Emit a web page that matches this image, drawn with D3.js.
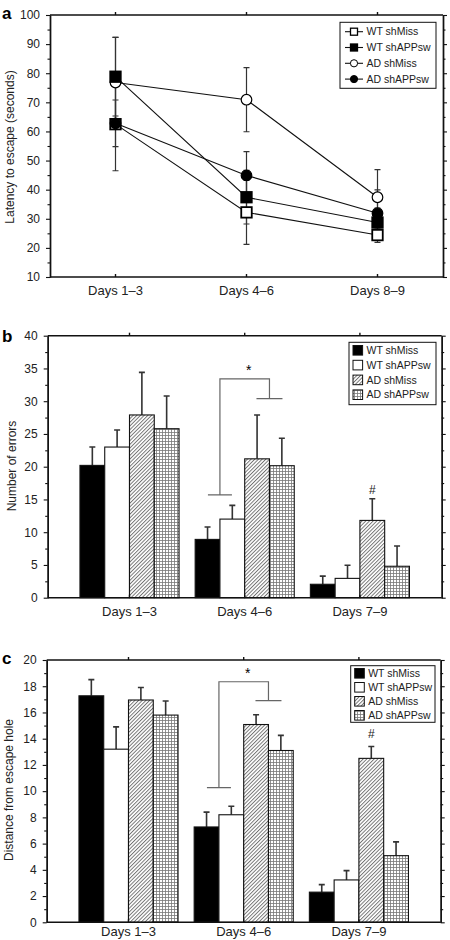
<!DOCTYPE html>
<html><head><meta charset="utf-8">
<script src="https://cdn.jsdelivr.net/npm/d3@7"></script>
<style>
body{margin:0;background:#fff;}
svg{display:block;font-family:"Liberation Sans",Arial,sans-serif;}
</style></head><body>
<svg width="450" height="940"></svg>
<script>
const seriesNames = ["WT shMiss", "WT shAPPsw", "AD shMiss", "AD shAPPsw"];
const daysA = ["Days 1–3", "Days 4–6", "Days 8–9"];
const daysBC = ["Days 1–3", "Days 4–6", "Days 7–9"];

// a: latency to escape (s)
const latWTshMiss = [62.5, 32.2, 24.4];
const latWTshAPPsw = [78.8, 37.4, 28.7];
const latADshMiss = [76.8, 70.9, 37.4];
const latADshAPPsw = [62.8, 44.9, 31.9];
const latErrWTshMiss = [16, 11, 2.5];
const latErrWTshAPPsw = [13.5, 9.2, 5];
const latErrADshMiss = [15.5, 11, 9.5];
const latErrADshAPPsw = [8, 8.2, 8];

// b: number of errors
const errWTshMiss = [20.2, 8.9, 2.05];
const errWTshAPPsw = [23.0, 12.0, 2.95];
const errADshMiss = [27.9, 21.2, 11.8];
const errADshAPPsw = [25.8, 20.15, 4.8];
const errSemWTshMiss = [2.8, 1.9, 1.25];
const errSemWTshAPPsw = [2.6, 2.1, 2.0];
const errSemADshMiss = [6.5, 6.7, 3.3];
const errSemADshAPPsw = [5.0, 4.2, 3.1];

// c: distance from escape hole
const distWTshMiss = [17.27, 7.27, 2.3];
const distWTshAPPsw = [13.2, 8.2, 3.23];
const distADshMiss = [16.95, 15.08, 12.5];
const distADshAPPsw = [15.8, 13.1, 5.08];
const distSemWTshMiss = [1.23, 1.13, 0.57];
const distSemWTshAPPsw = [1.7, 0.65, 0.71];
const distSemADshMiss = [0.95, 0.75, 0.9];
const distSemADshAPPsw = [1.07, 1.15, 1.05];

// significance marks: [left base, right base, bracket top]
const bracketB = [15.7, 30.4, 33.4];
const bracketC = [10.27, 16.9, 18.34];

const svg = d3.select('svg');
const defs = svg.append('defs');
const diag = defs.append('pattern').attr('id', 'diag').attr('patternUnits', 'userSpaceOnUse')
    .attr('width', 2.6).attr('height', 2.6).attr('patternTransform', 'rotate(45)');
diag.append('rect').attr('width', 2.6).attr('height', 2.6).attr('fill', '#fff');
diag.append('line').attr('x1', 0.5).attr('y1', 0).attr('x2', 0.5).attr('y2', 2.6)
    .attr('stroke', '#6a6a6a').attr('stroke-width', 0.9);
const cross = defs.append('pattern').attr('id', 'cross').attr('patternUnits', 'userSpaceOnUse')
    .attr('width', 3).attr('height', 3);
cross.append('rect').attr('width', 3).attr('height', 3).attr('fill', '#fff');
cross.append('path').attr('d', 'M0.5,0V3M0,0.5H3').attr('stroke', '#777').attr('stroke-width', 0.8);

const fills = ['#000', '#fff', 'url(#diag)', 'url(#cross)'];

function frame(g, x0, x1, y, major, minor, catX) {
    // left axis
    g.append('g').attr('transform', `translate(${x0},0)`)
        .call(d3.axisLeft(y).tickValues(major).tickSize(4).tickPadding(6).tickSizeOuter(0))
        .call(a => a.selectAll('text').attr('font-size', '12px').attr('fill', '#222'));
    g.append('g').attr('transform', `translate(${x0},0)`)
        .call(d3.axisLeft(y).tickValues(minor).tickSize(2.5).tickFormat('').tickSizeOuter(0));
    // right axis
    g.append('g').attr('transform', `translate(${x1},0)`)
        .call(d3.axisRight(y).tickValues(major).tickSize(4).tickFormat('').tickSizeOuter(0));
    g.append('g').attr('transform', `translate(${x1},0)`)
        .call(d3.axisRight(y).tickValues(minor).tickSize(2.5).tickFormat('').tickSizeOuter(0));
    const [yb, yt] = y.range();
    g.append('line').attr('x1', x0).attr('x2', x1).attr('y1', yb).attr('y2', yb);
    g.append('line').attr('x1', x0).attr('x2', x1).attr('y1', yt).attr('y2', yt);
    catX.forEach(cx => {
        g.append('line').attr('x1', cx).attr('x2', cx).attr('y1', yt).attr('y2', yt - 3);
        g.append('line').attr('x1', cx).attr('x2', cx).attr('y1', yb).attr('y2', yb - 3);
    });
    g.selectAll('line,path.domain').attr('stroke', '#111').attr('stroke-width', 1.4);
    g.selectAll('.tick line').attr('stroke-width', 1.1);
}

function yTitle(x, y, text) {
    svg.append('text').attr('transform', `translate(${x},${y}) rotate(-90)`)
        .attr('text-anchor', 'middle').attr('dy', '0.35em')
        .attr('font-size', '12px').attr('fill', '#222').text(text);
}
function letter(x, y, t) {
    svg.append('text').attr('x', x).attr('y', y).attr('font-weight', 'bold')
        .attr('font-size', '17px').text(t);
}

// ---------- panel a ----------
{
    const latency = [latWTshMiss, latWTshAPPsw, latADshMiss, latADshAPPsw];
    const latErr = [latErrWTshMiss, latErrWTshAPPsw, latErrADshMiss, latErrADshAPPsw];
    const x = d3.scalePoint().domain(daysA).range([50, 443]).padding(0.5);
    const y = d3.scaleLinear().domain([10, 100]).range([277, 15]);
    const g = svg.append('g');
    frame(g, 50, 443, y, d3.range(10, 101, 10), d3.range(15, 100, 10), daysA.map(x));
    daysA.forEach(d => g.append('text').attr('x', x(d)).attr('y', 295)
        .attr('text-anchor', 'middle').attr('font-size', '13px').attr('fill', '#222').text(d));
    const line = d3.line().x((v, i) => x(daysA[i])).y(v => y(v));
    latency.forEach(s => g.append('path').attr('d', line(s)).attr('fill', 'none')
        .attr('stroke', '#111').attr('stroke-width', 1.1));
    latency.forEach((s, k) => s.forEach((v, i) => {
        const cx = x(daysA[i]), e = latErr[k][i];
        g.append('path').attr('d', `M${cx},${y(v - e)}V${y(v + e)}M${cx - 3},${y(v - e)}H${cx + 3}M${cx - 3},${y(v + e)}H${cx + 3}`)
            .attr('stroke', '#333').attr('stroke-width', 1.2).attr('fill', 'none');
    }));
    const marker = (sel, k, cx, cy, big) => {
        const filled = k % 2 === 1;
        if (k < 2) {
            const s = big ? 10.5 : 7;
            sel.append('rect').attr('x', cx - s / 2).attr('y', cy - s / 2).attr('width', s).attr('height', s)
                .attr('fill', filled ? '#000' : '#fff').attr('stroke', '#000').attr('stroke-width', big ? 1.8 : 1.3);
        } else {
            sel.append('circle').attr('cx', cx).attr('cy', cy).attr('r', big ? 5.3 : 3.6)
                .attr('fill', filled ? '#000' : '#fff').attr('stroke', '#000').attr('stroke-width', big ? 1.2 : 1);
        }
    };
    [2, 0, 3, 1].forEach(k => latency[k].forEach((v, i) => marker(g, k, x(daysA[i]), y(v), true)));
    // legend
    g.append('rect').attr('x', 340).attr('y', 22.3).attr('width', 96).attr('height', 66)
        .attr('fill', '#fff').attr('stroke', '#111').attr('stroke-width', 1);
    seriesNames.forEach((n, k) => {
        const ry = 31.7 + k * 15.8;
        g.append('line').attr('x1', 345).attr('x2', 363).attr('y1', ry).attr('y2', ry)
            .attr('stroke', '#111').attr('stroke-width', 1.1);
        marker(g, k, 354, ry, false);
        g.append('text').attr('x', 366.5).attr('y', ry).attr('dy', '0.36em')
            .attr('font-size', '10.5px').attr('fill', '#222').text(n);
    });
    yTitle(9.5, 147, 'Latency to escape (seconds)');
    letter(2, 19, 'a');
}

function barPanel(p) {
    const x = d3.scaleBand().domain(daysBC).range([p.x0, p.x1]).paddingInner(0.14).paddingOuter(0.28);
    const xs = d3.scaleBand().domain(seriesNames).range([0, x.bandwidth()]);
    const y = d3.scaleLinear().domain(p.domain).range(p.yRange);
    const g = svg.append('g');
    p.means.forEach((s, k) => s.forEach((v, i) => {
        const bx = x(daysBC[i]) + xs(seriesNames[k]) + xs.bandwidth() / 2;
        const top = y(v + p.sems[k][i]);
        g.append('path').attr('d', `M${bx},${y(v)}V${top}M${bx - 3},${top}H${bx + 3}`)
            .attr('stroke', '#333').attr('stroke-width', 1.6).attr('fill', 'none');
    }));
    p.means.forEach((s, k) => s.forEach((v, i) => {
        g.append('rect').attr('x', x(daysBC[i]) + xs(seriesNames[k])).attr('y', y(v))
            .attr('width', xs.bandwidth()).attr('height', y(0) - y(v))
            .attr('fill', fills[k]).attr('stroke', '#111').attr('stroke-width', 1.1);
    }));
    frame(g, p.x0, p.x1, y, p.major, p.minor, daysBC.map(d => x(d) + x.bandwidth() / 2));
    daysBC.forEach(d => g.append('text').attr('x', x(d) + x.bandwidth() / 2).attr('y', p.labelY)
        .attr('text-anchor', 'middle').attr('font-size', '13px').attr('fill', '#222').text(d));
    // bracket on days 4-6
    const g4 = x(daysBC[1]);
    const lx = g4 + xs(seriesNames[1]), rx = g4 + xs(seriesNames[3]);
    const [lb, rb, tp] = p.bracket;
    g.append('path').attr('d', `M${lx - 12},${y(lb)}H${lx + 12}M${lx},${y(lb)}V${y(tp)}H${rx}V${y(rb)}M${rx - 13},${y(rb)}H${rx + 13}`)
        .attr('fill', 'none').attr('stroke', '#666').attr('stroke-width', 1.2);
    g.append('text').attr('x', g4 + x.bandwidth() / 2 + 4).attr('y', y(tp) - 4)
        .attr('text-anchor', 'middle').attr('font-size', '14px').text('*');
    // hash on AD shMiss days 7-9
    const hx = x(daysBC[2]) + xs(seriesNames[2]) + xs.bandwidth() / 2;
    g.append('text').attr('x', hx).attr('y', y(errTop(p, 2, 2)) - p.hashGap)
        .attr('text-anchor', 'middle').attr('font-size', '12px').attr('fill', '#222').text('#');
    // legend
    const L = p.legend;
    g.append('rect').attr('x', L.x).attr('y', L.y).attr('width', L.w).attr('height', L.h)
        .attr('fill', '#fff').attr('stroke', '#111').attr('stroke-width', 1);
    seriesNames.forEach((n, k) => {
        const ry = L.y + L.first + k * L.step;
        g.append('rect').attr('x', L.x + 4).attr('y', ry - 4.8).attr('width', 9.6).attr('height', 9.6)
            .attr('fill', fills[k]).attr('stroke', '#111').attr('stroke-width', 1);
        g.append('text').attr('x', L.x + 17.5).attr('y', ry).attr('dy', '0.36em')
            .attr('font-size', '10.5px').attr('fill', '#222').text(n);
    });
    yTitle(p.titleX, p.titleY, p.title);
    letter(2, p.letterY, p.letter);
}
function errTop(p, k, i) { return p.means[k][i] + p.sems[k][i]; }

barPanel({
    x0: 47.7, x1: 441.7, domain: [0, 40], yRange: [597.7, 335.7],
    means: [errWTshMiss, errWTshAPPsw, errADshMiss, errADshAPPsw],
    sems: [errSemWTshMiss, errSemWTshAPPsw, errSemADshMiss, errSemADshAPPsw],
    major: d3.range(0, 41, 5), minor: d3.range(2.5, 40, 5),
    bracket: bracketB, hashGap: 5, labelY: 616,
    legend: {x: 349, y: 342.3, w: 87, h: 62.4, first: 8, step: 14.8},
    title: 'Number of errors', titleX: 11.8, titleY: 466, letter: 'b', letterY: 341.5
});
barPanel({
    x0: 46.7, x1: 440.7, domain: [0, 20], yRange: [922.3, 660],
    means: [distWTshMiss, distWTshAPPsw, distADshMiss, distADshAPPsw],
    sems: [distSemWTshMiss, distSemWTshAPPsw, distSemADshMiss, distSemADshAPPsw],
    major: d3.range(0, 21, 2), minor: d3.range(1, 20, 2),
    bracket: bracketC, hashGap: 9, labelY: 936,
    legend: {x: 350.7, y: 665.7, w: 84.3, h: 56.6, first: 7.6, step: 14},
    title: 'Distance from escape hole', titleX: 8.7, titleY: 790, letter: 'c', letterY: 664
});
</script>
</body></html>
